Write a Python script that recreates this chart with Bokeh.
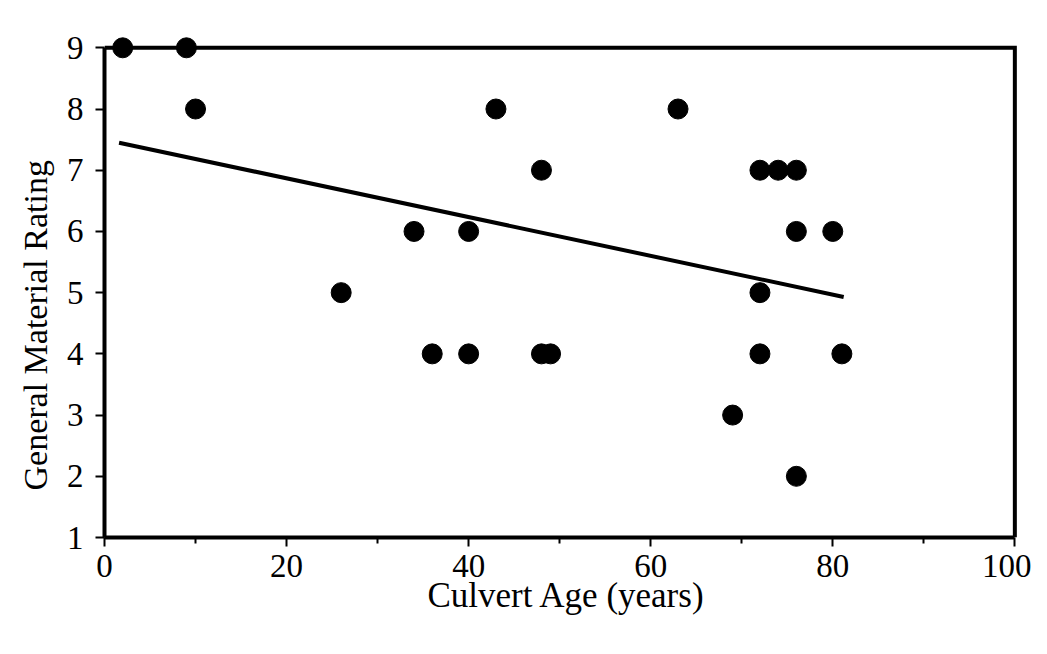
import math
from bokeh.plotting import figure
from bokeh.models import FixedTicker, Range1d, Title
from bokeh.embed import file_html
from bokeh.resources import INLINE

# Data
culvert_age = [2, 9, 10, 26, 34, 36, 40, 40, 43, 48, 48, 49, 63, 69,
               72, 74, 76, 76, 72, 72, 76, 80, 81]
material_rating = [9, 9, 8, 5, 6, 4, 6, 4, 8, 7, 4, 4, 8, 3,
                   7, 7, 7, 6, 5, 4, 2, 6, 4]
trend_x = [1.6, 81.2]
trend_y = [7.45, 4.93]

x_major = [0, 20, 40, 60, 80, 100]
x_minor = [10, 30, 50, 70, 90]
y_major = [1, 2, 3, 4, 5, 6, 7, 8, 9]
x_lim = [0, 100]
y_lim = [1, 9]

FONT = "Liberation Serif"

# ranges are padded a little beyond the drawn box so that markers on the
# box edge are not clipped; the box itself is drawn at the real limits
p = figure(width=1031, height=636, output_backend="svg", toolbar_location=None,
           x_range=Range1d(x_lim[0], x_lim[1] + 1.5),
           y_range=Range1d(y_lim[0], y_lim[1] + 0.25),
           min_border_left=104, min_border_right=3,
           min_border_top=32, min_border_bottom=99)

p.outline_line_color = None
p.xgrid.visible = False
p.ygrid.visible = False
p.background_fill_color = "white"
p.border_fill_color = "white"

# top and right edges of the box
p.line([x_lim[0], x_lim[1], x_lim[1]], [y_lim[1], y_lim[1], y_lim[0]],
       line_color="black", line_width=4, line_join="miter")

p.line(trend_x, trend_y, line_color="black", line_width=4)
p.scatter(culvert_age, material_rating, size=20, marker="circle",
          fill_color="black", line_color="black")

p.xaxis.ticker = FixedTicker(ticks=x_major, minor_ticks=x_minor)
p.yaxis.ticker = FixedTicker(ticks=y_major)
p.xaxis.bounds = (x_lim[0], x_lim[1])
p.yaxis.bounds = (y_lim[0], y_lim[1])

for ax in (p.xaxis[0], p.yaxis[0]):
    ax.axis_line_color = "black"
    ax.axis_line_width = 4
    ax.major_tick_line_color = "black"
    ax.major_tick_line_width = 2
    ax.major_tick_out = 9
    ax.major_tick_in = 0
    ax.minor_tick_line_color = "black"
    ax.minor_tick_line_width = 2
    ax.minor_tick_out = 6
    ax.minor_tick_in = 0
    ax.major_label_text_font = FONT
    ax.major_label_text_font_size = "33px"
    ax.major_label_text_color = "black"
    ax.axis_label_text_font = FONT
    ax.axis_label_text_font_style = "normal"
    ax.axis_label_text_font_size = "35px"
    ax.axis_label_text_color = "black"

p.yaxis.minor_tick_line_color = None
p.xaxis.major_label_standoff = 8
p.yaxis.major_label_standoff = 12
p.xaxis.axis_label = "Culvert Age (years)"
p.xaxis.axis_label_standoff = -4

ytitle = Title(text="General Material Rating", align="left", offset=47,
               standoff=20, text_font=FONT, text_font_size="34px",
               text_font_style="normal", text_color="black")
p.add_layout(ytitle, "left")

open("out.html", "w").write(file_html(p, INLINE))
